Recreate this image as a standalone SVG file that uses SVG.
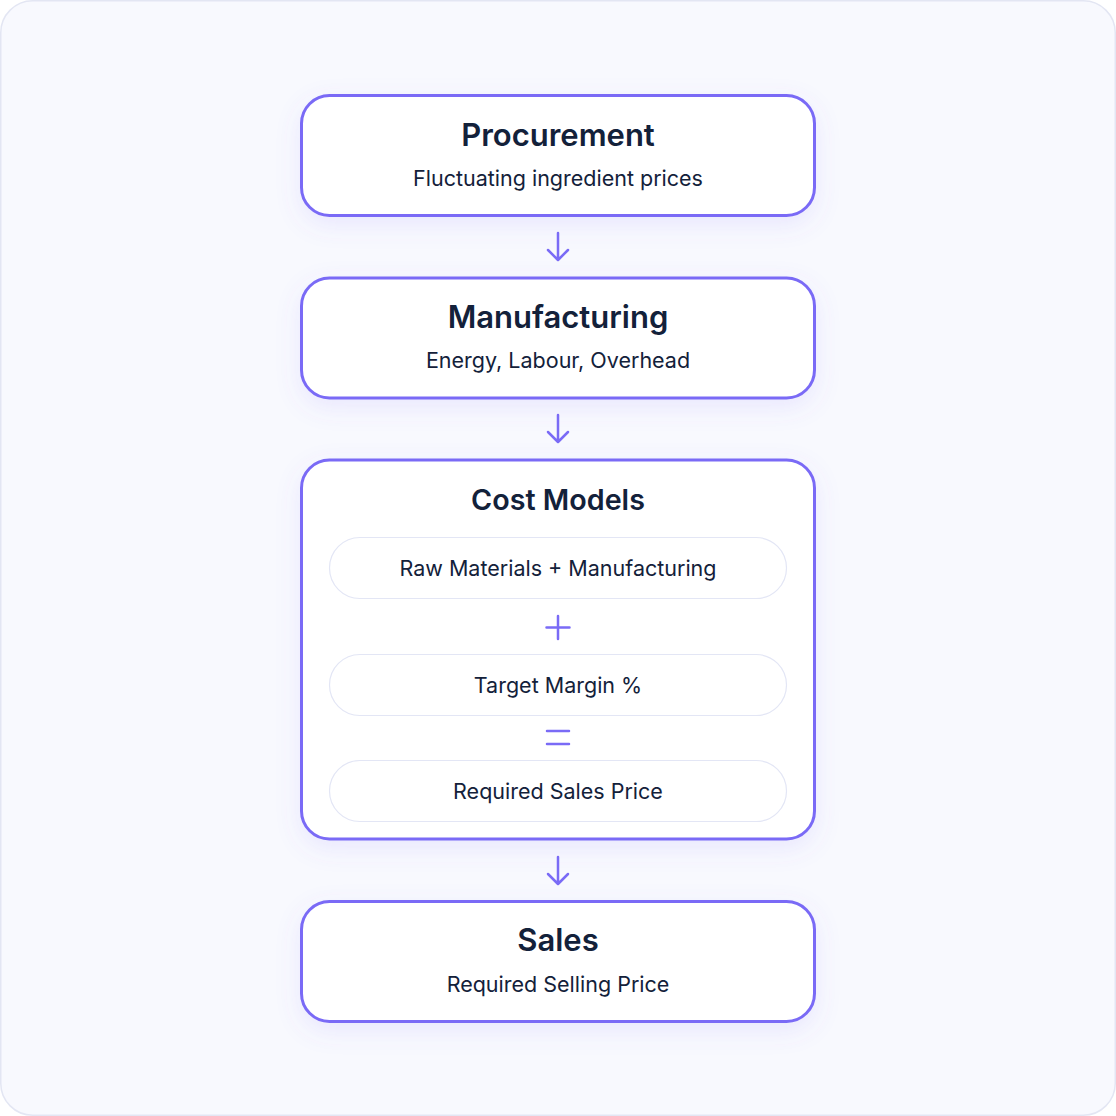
<svg xmlns="http://www.w3.org/2000/svg" width="1116" height="1116" viewBox="0 0 1116 1116">
<style>
.bg{fill:#F8F9FE;stroke:#E3E6F3;stroke-width:1.5}
.box{fill:#FFFFFF;stroke:#7A6BF6;stroke-width:3}
.pill{fill:#FFFFFF;stroke:#E3E6F5;stroke-width:1.2}
.t{font-family:Inter,"Noto Sans",sans-serif;font-weight:600;font-size:31px;fill:#13213A;text-anchor:middle}
.s{font-family:Inter,"Noto Sans",sans-serif;font-weight:400;font-size:21.5px;fill:#13213A;text-anchor:middle}
.ln{stroke:#7A6BF6;stroke-width:2.5;fill:none;stroke-linecap:round;stroke-linejoin:round}
</style>
<defs>
<filter id="sh" x="-20%" y="-40%" width="140%" height="180%">
<feDropShadow dx="0" dy="8" stdDeviation="12" flood-color="#7A6BF6" flood-opacity="0.12"/>
</filter>
</defs>
<rect class="bg" x="0.75" y="0.75" width="1114.5" height="1114.5" rx="32"/>
<g id="procurement">
<rect class="box" filter="url(#sh)" x="301.5" y="95.5" width="513" height="120" rx="28"/>
<text class="t" x="558" y="146">Procurement</text>
<text class="s" x="558" y="186">Fluctuating ingredient prices</text>
</g>
<g id="manufacturing">
<rect class="box" filter="url(#sh)" x="301.5" y="278" width="513" height="120" rx="28"/>
<text class="t" x="558" y="328">Manufacturing</text>
<text class="s" x="558" y="368">Energy, Labour, Overhead</text>
</g>
<g id="cost-models">
<rect class="box" filter="url(#sh)" x="301.5" y="460" width="513" height="379" rx="28"/>
<text class="t" x="558" y="510" style="font-size:28.7px">Cost Models</text>
<g id="raw-materials">
<rect class="pill" x="329.5" y="537.5" width="457" height="61" rx="30.5"/>
<text class="s" x="558" y="576">Raw Materials + Manufacturing</text>
</g>
<path class="ln" d="M558 616V639M546.5 627.5H569.5"/>
<g id="target-margin">
<rect class="pill" x="329.5" y="654.5" width="457" height="61" rx="30.5"/>
<text class="s" x="558" y="693">Target Margin %</text>
</g>
<path class="ln" d="M547 731H569M547 744H569"/>
<g id="required-sales-price">
<rect class="pill" x="329.5" y="760.5" width="457" height="61" rx="30.5"/>
<text class="s" x="558" y="799">Required Sales Price</text>
</g>
</g>
<g id="sales">
<rect class="box" filter="url(#sh)" x="301.5" y="901.5" width="513" height="120" rx="28"/>
<text class="t" x="558" y="951">Sales</text>
<text class="s" x="558" y="992">Required Selling Price</text>
</g>
<g id="connectors">
<path class="ln" d="M558 233V259M548 250L558 260L568 250"/>
<path class="ln" d="M558 415V441M548 432L558 442L568 432"/>
<path class="ln" d="M558 857V883M548 874L558 884L568 874"/>
</g>
</svg>
